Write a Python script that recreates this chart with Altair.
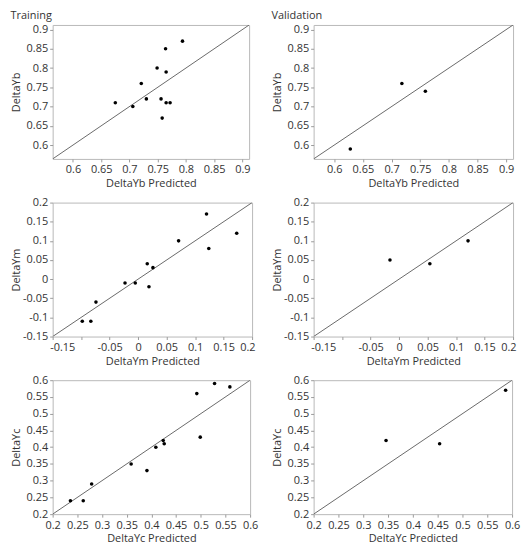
import altair as alt
import pandas as pd

# ---- data ----
# Training
yb_train_pred = [0.675, 0.706, 0.721, 0.730, 0.749, 0.756, 0.758, 0.764, 0.765, 0.765, 0.772, 0.794]
yb_train_act = [0.71, 0.70, 0.76, 0.72, 0.80, 0.72, 0.67, 0.85, 0.79, 0.71, 0.71, 0.87]
ym_train_pred = [-0.098, -0.083, -0.074, -0.023, -0.005, 0.016, 0.019, 0.026, 0.071, 0.120, 0.124, 0.173]
ym_train_act = [-0.11, -0.11, -0.06, -0.01, -0.01, 0.04, -0.02, 0.03, 0.10, 0.17, 0.08, 0.12]
yc_train_pred = [0.236, 0.262, 0.279, 0.359, 0.391, 0.409, 0.424, 0.426, 0.492, 0.499, 0.528, 0.559]
yc_train_act = [0.24, 0.24, 0.29, 0.35, 0.33, 0.40, 0.42, 0.41, 0.56, 0.43, 0.59, 0.58]
# Validation
yb_val_pred = [0.628, 0.718, 0.759]
yb_val_act = [0.59, 0.76, 0.74]
ym_val_pred = [-0.016, 0.054, 0.121]
ym_val_act = [0.05, 0.04, 0.10]
yc_val_pred = [0.346, 0.454, 0.587]
yc_val_act = [0.42, 0.41, 0.57]

# axis ranges and ticks
yb_domain = [0.564, 0.912]
ym_domain = [-0.15, 0.2]
yc_domain = [0.2, 0.6]
yb_ticks = [0.6, 0.65, 0.7, 0.75, 0.8, 0.85, 0.9]
ym_ticks = [-0.15, -0.1, -0.05, 0.0, 0.05, 0.1, 0.15, 0.2]
yc_ticks = [0.2, 0.25, 0.3, 0.35, 0.4, 0.45, 0.5, 0.55, 0.6]

FONT = "Open Sans"
TXT = "#333333"
FS = 11
EXTENT = 29

LBL = "replace(format(datum.value, '~g'), '\u2212', '-')"


def panel(xs, ys, name, domain, ticks, width, hide_x=None, flush=False):
    scale = alt.Scale(domain=domain, nice=False, zero=False)
    xlabel = LBL
    if hide_x is not None:
        xlabel = "abs(datum.value - (%s)) < 1e-6 ? '' : %s" % (hide_x, LBL)
    common = dict(grid=False, domain=False, tickSize=3, tickColor="#9a9a9a",
                  labelFontSize=FS, titleFontSize=FS, titleFontWeight="normal",
                  labelColor=TXT, titleColor=TXT, labelFont=FONT, titleFont=FONT)
    xaxis = alt.Axis(values=ticks, labelExpr=xlabel, labelPadding=2, titlePadding=3,
                     labelFlush=flush, labelFlushOffset=3, **common)
    yaxis = alt.Axis(values=ticks, labelExpr=LBL, labelPadding=2, titlePadding=2,
                     minExtent=EXTENT, maxExtent=EXTENT, **common)
    enc = dict(
        x=alt.X("pred:Q", scale=scale, axis=xaxis, title=name + " Predicted"),
        y=alt.Y("act:Q", scale=scale, axis=yaxis, title=name),
    )
    line = alt.Chart(pd.DataFrame({"pred": domain, "act": domain})).mark_line(
        color="#6a6a6a", strokeWidth=1, clip=True).encode(**enc)
    pts = alt.Chart(pd.DataFrame({"pred": xs, "act": ys})).mark_circle(
        size=13, color="black", opacity=1).encode(**enc)
    return alt.layer(line, pts).properties(width=width, height=135)


def column(charts, label):
    return alt.vconcat(
        *charts,
        spacing=6,
        title=alt.TitleParams(label, anchor="start", frame="bounds", fontSize=11,
                              fontWeight="normal", font=FONT, color=TXT, offset=2),
    )


left = column([
    panel(yb_train_pred, yb_train_act, "DeltaYb", yb_domain, yb_ticks, 198),
    panel(ym_train_pred, ym_train_act, "DeltaYm", ym_domain, ym_ticks, 201, hide_x=-0.1, flush=True),
    panel(yc_train_pred, yc_train_act, "DeltaYc", yc_domain, yc_ticks, 199),
], "Training")
right = column([
    panel(yb_val_pred, yb_val_act, "DeltaYb", yb_domain, yb_ticks, 201),
    panel(ym_val_pred, ym_val_act, "DeltaYm", ym_domain, ym_ticks, 201, hide_x=-0.1, flush=True),
    panel(yc_val_pred, yc_val_act, "DeltaYc", yc_domain, yc_ticks, 200),
], "Validation")

chart = alt.hconcat(left, right, spacing=12).properties(
    padding={"left": 2, "top": 0, "right": 0, "bottom": 0}
).configure(font=FONT).configure_view(stroke="#b8b8b8", strokeWidth=1)

chart.save("out.html", embed_options={"renderer": "svg", "actions": False})
